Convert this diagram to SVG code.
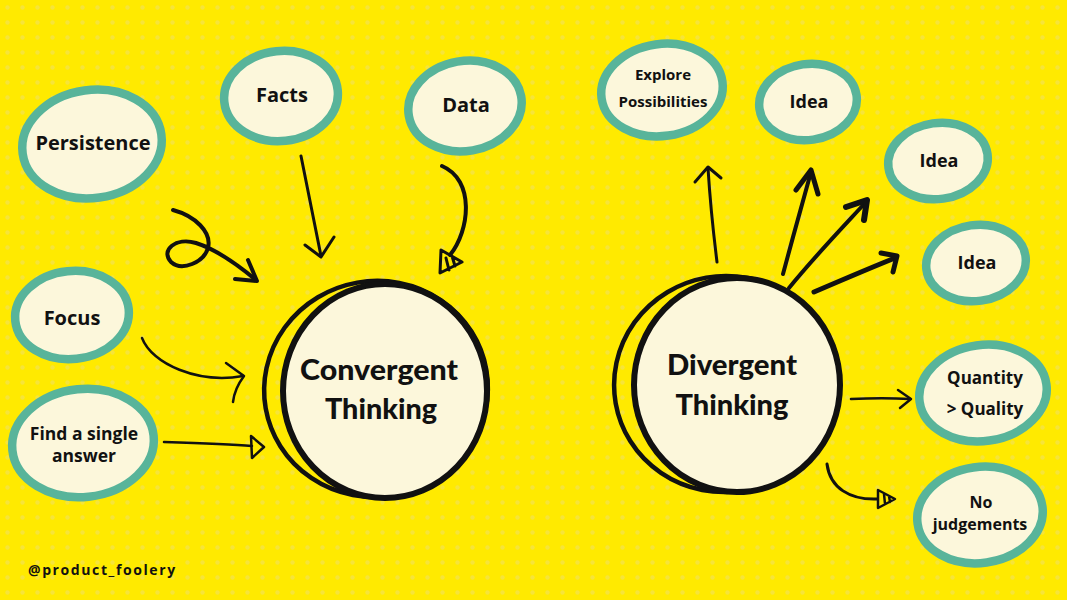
<svg xmlns="http://www.w3.org/2000/svg" width="1067" height="600" viewBox="0 0 1067 600">
<defs>
<pattern id="dots" width="15" height="15" patternUnits="userSpaceOnUse">
<rect width="15" height="15" fill="#FFEA00"/>
<circle cx="7.5" cy="7.5" r="2.2" fill="#F6E43A"/>
</pattern>
<style>
.node{fill:#FCF7DB;stroke:#58B49A;stroke-width:8.5}
.lbl{font-family:"Open Sans","Noto Sans",sans-serif;font-weight:bold;fill:#111;text-anchor:middle}
.big{font-family:"Lato","Open Sans",sans-serif;font-weight:900;fill:#111;text-anchor:middle;font-size:28px}
.ln{fill:none;stroke:#111;stroke-linecap:round;stroke-linejoin:round}
.core{fill:#FCF7DB;stroke:#111;stroke-width:6}
.ring{fill:none;stroke:#111;stroke-width:4.5}
</style>
</defs>
<rect width="1067" height="600" fill="url(#dots)"/>

<g id="persistence">
<ellipse class="node" cx="92" cy="144" rx="70" ry="54" transform="rotate(-8 92 144)"/>
<text class="lbl" x="93" y="150" font-size="20">Persistence</text>
</g>
<g id="facts">
<ellipse class="node" cx="281" cy="96" rx="57" ry="45" transform="rotate(-6 281 96)"/>
<text class="lbl" x="282" y="102" font-size="20">Facts</text>
</g>
<g id="data">
<ellipse class="node" cx="465" cy="106" rx="57" ry="45" transform="rotate(-10 465 106)"/>
<text class="lbl" x="466" y="112" font-size="20">Data</text>
</g>
<g id="focus">
<ellipse class="node" cx="72" cy="315" rx="57" ry="44" transform="rotate(-6 72 315)"/>
<text class="lbl" x="72" y="325" font-size="20">Focus</text>
</g>
<g id="single-answer">
<ellipse class="node" cx="83" cy="443" rx="71" ry="54" transform="rotate(-6 83 443)"/>
<text class="lbl" x="84" y="440" font-size="17.5">Find a single</text>
<text class="lbl" x="84" y="462" font-size="17.5">answer</text>
</g>

<g id="convergent">
<ellipse class="ring" cx="376" cy="389" rx="112" ry="108" transform="rotate(-10 376 389)"/>
<ellipse class="core" cx="385" cy="391" rx="102" ry="107"/>
<text class="big" x="379" y="380" textLength="158" lengthAdjust="spacingAndGlyphs">Convergent</text>
<text class="big" x="381" y="419" textLength="112" lengthAdjust="spacingAndGlyphs">Thinking</text>
</g>

<g id="divergent">
<ellipse class="ring" cx="725" cy="384" rx="111" ry="108" transform="rotate(-10 725 384)"/>
<ellipse class="core" cx="737" cy="385" rx="103" ry="107"/>
<text class="big" x="732" y="375" textLength="130" lengthAdjust="spacingAndGlyphs">Divergent</text>
<text class="big" x="732" y="415" textLength="113" lengthAdjust="spacingAndGlyphs">Thinking</text>
</g>

<g id="explore">
<ellipse class="node" cx="662" cy="90" rx="61" ry="46" transform="rotate(-8 662 90)"/>
<text class="lbl" x="663" y="80" font-size="15">Explore</text>
<text class="lbl" x="663" y="107" font-size="15">Possibilities</text>
</g>
<g id="idea1">
<ellipse class="node" cx="808" cy="102" rx="49" ry="38" transform="rotate(-8 808 102)"/>
<text class="lbl" x="809" y="108" font-size="18">Idea</text>
</g>
<g id="idea2">
<ellipse class="node" cx="938" cy="161" rx="50" ry="38" transform="rotate(-8 938 161)"/>
<text class="lbl" x="939" y="167" font-size="18">Idea</text>
</g>
<g id="idea3">
<ellipse class="node" cx="976" cy="263" rx="50" ry="38" transform="rotate(-8 976 263)"/>
<text class="lbl" x="977" y="269" font-size="18">Idea</text>
</g>
<g id="quantity">
<ellipse class="node" cx="983" cy="393" rx="64" ry="48" transform="rotate(-8 983 393)"/>
<text class="lbl" x="985" y="384" font-size="17">Quantity</text>
<text class="lbl" x="985" y="415" font-size="17">&gt; Quality</text>
</g>
<g id="no-judgements">
<ellipse class="node" cx="980" cy="515" rx="63" ry="48" transform="rotate(-8 980 515)"/>
<text class="lbl" x="981" y="508" font-size="16">No</text>
<text class="lbl" x="980" y="530" font-size="16">judgements</text>
</g>

<g id="connectors">
<path class="ln" stroke-width="4" d="M173,210 C195,216 212,232 208,248 C204,262 182,272 171,262 C160,250 176,237 196,243 C218,250 238,265 256,280"/>
<path class="ln" stroke-width="4" d="M235,279 L257,281 L248,260"/>
<path class="ln" stroke-width="3" d="M301,156 C308,190 314,222 321,256"/>
<path class="ln" stroke-width="3" d="M305,245 L321,257 L334,237"/>
<path class="ln" stroke-width="4" d="M442,166 C475,180 470,230 450,255"/>
<path class="ln" stroke-width="3" d="M441,250 L440,273 L462,262 Z M446,258 L449,270 M452,256 L455,266" fill="#FFEA00"/>
<path class="ln" stroke-width="2.5" d="M142,338 C152,364 198,384 243,376"/>
<path class="ln" stroke-width="2.5" d="M226,363 L244,376 C238,384 234,393 233,402"/>
<path class="ln" stroke-width="2.5" d="M164,442 C196,443 228,444 252,446"/>
<path class="ln" stroke-width="2.5" d="M251,436 L264,447 L252,458 Z" fill="#FFEA00"/>
<path class="ln" stroke-width="3" d="M717,262 C713,230 710,200 708,168"/>
<path class="ln" stroke-width="3" d="M695,182 L708,167 L721,178"/>
<path class="ln" stroke-width="4" d="M783,274 C792,240 802,205 811,172"/>
<path class="ln" stroke-width="5" d="M796,190 L811,170 L818,194"/>
<path class="ln" stroke-width="4" d="M789,288 C815,256 842,228 866,202"/>
<path class="ln" stroke-width="6" d="M846,207 L867,200 L864,220"/>
<path class="ln" stroke-width="5" d="M814,292 C842,280 870,268 895,258"/>
<path class="ln" stroke-width="5" d="M881,253 L897,256 L893,272"/>
<path class="ln" stroke-width="2.5" d="M851,399 C872,398 892,398 910,399"/>
<path class="ln" stroke-width="2.5" d="M898,390 L911,399 L900,408"/>
<path class="ln" stroke-width="3" d="M827,464 C830,488 850,500 877,499"/>
<path class="ln" stroke-width="2.5" d="M878,490 L895,499 L878,508 Z M884,494 L885,504 M889,496 L890,502" fill="#FFEA00"/>
</g>

<text x="28" y="575" font-family="'Open Sans','Noto Sans',sans-serif" font-weight="bold" font-size="14" letter-spacing="1.6" fill="#111">@product_foolery</text>
</svg>
